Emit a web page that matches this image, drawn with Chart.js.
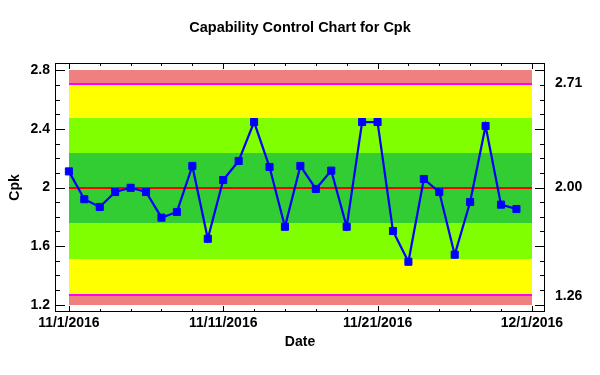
<!DOCTYPE html>
<html>
<head>
<meta charset="utf-8">
<script src="https://cdn.jsdelivr.net/npm/chart.js@4.4.1/dist/chart.umd.min.js"></script>
<style>
  body { margin: 0; background: #fff; }
  #wrap { width: 600px; height: 375px; }
</style>
</head>
<body>
<div id="wrap"><canvas id="myChart"></canvas></div>
<script>
// data
var dates = ['11/1/2016','11/2/2016','11/3/2016','11/4/2016','11/5/2016','11/6/2016','11/7/2016','11/8/2016','11/9/2016','11/10/2016',
             '11/11/2016','11/12/2016','11/13/2016','11/14/2016','11/15/2016','11/16/2016','11/17/2016','11/18/2016','11/19/2016','11/20/2016',
             '11/21/2016','11/22/2016','11/23/2016','11/24/2016','11/25/2016','11/26/2016','11/27/2016','11/28/2016','11/29/2016','11/30/2016'];
var cpk = [2.11, 1.92, 1.867, 1.969, 1.998, 1.969, 1.794, 1.833, 2.147, 1.65,
           2.051, 2.181, 2.447, 2.14, 1.732, 2.147, 1.99, 2.115, 1.732, 2.447,
           2.447, 1.703, 1.493, 2.058, 1.969, 1.541, 1.901, 2.42, 1.883, 1.853];

var xTickDays = [0, 10, 20, 30];
var xTickLabels = ['11/1/2016', '11/11/2016', '11/21/2016', '12/1/2016'];
var yTicks = [1.2, 1.6, 2, 2.4, 2.8];
var rightTicks = [1.26, 2.00, 2.71];

// capability zones (top to bottom) and limit lines
var bandEdges = [2.8, 2.71, 2.475, 2.238, 1.755, 1.509, 1.265, 1.2];
var bandColors = ['#F08080', '#FFFF00', '#7FFF00', '#32CD32', '#7FFF00', '#FFFF00', '#F08080'];
var limitLines = [2.71, 1.265];
var centerLine = 2.0;
var bandStart = 0, bandEnd = 30;

var points = [];
for (var i in cpk) {
    points.push({x: Number(i), y: cpk[i]});
}

var zones = {
    id: 'zones',
    beforeDatasetsDraw: function(chart) {
        var ctx = chart.ctx, x = chart.scales.x, y = chart.scales.y;
        var x0 = Math.round(x.getPixelForValue(bandStart)), x1 = Math.round(x.getPixelForValue(bandEnd));
        ctx.save();
        for (var i = 0; i < bandColors.length; i++) {
            var t = Math.round(y.getPixelForValue(bandEdges[i]));
            var b = Math.round(y.getPixelForValue(bandEdges[i + 1]));
            ctx.fillStyle = bandColors[i];
            ctx.fillRect(x0, t, x1 - x0, b - t);
        }
        ctx.lineWidth = 2;
        ctx.strokeStyle = '#FF00FF';
        limitLines.forEach(function(v) {
            var py = Math.round(y.getPixelForValue(v));
            ctx.beginPath(); ctx.moveTo(x0, py); ctx.lineTo(x1, py); ctx.stroke();
        });
        ctx.strokeStyle = '#FF0000';
        var cy = Math.round(y.getPixelForValue(centerLine));
        ctx.beginPath(); ctx.moveTo(x0, cy); ctx.lineTo(x1, cy); ctx.stroke();
        ctx.restore();
    },
    afterDraw: function(chart) {
        var ctx = chart.ctx, a = chart.chartArea, x = chart.scales.x, y = chart.scales.y;
        ctx.save();
        ctx.strokeStyle = '#000';
        ctx.lineWidth = 1;
        ctx.strokeRect(Math.round(a.left) + 0.5, Math.round(a.top) + 0.5,
                       Math.round(a.right - a.left) - 1, Math.round(a.bottom - a.top) - 1);
        ctx.beginPath();
        // y ticks every 0.1, long ones on the labels
        for (var k = 12; k <= 28; k++) {
            var py = Math.round(y.getPixelForValue(k / 10)) + 0.5;
            var len = (k % 4 === 0) ? 10 : 5;
            ctx.moveTo(a.left, py); ctx.lineTo(a.left + len, py);
            ctx.moveTo(a.right, py); ctx.lineTo(a.right - len, py);
        }
        // x ticks every 2 days
        for (var d = 0; d <= 30; d += 2) {
            var px = Math.round(x.getPixelForValue(d)) + 0.5;
            var l = (d % 10 === 0) ? 6 : 3;
            ctx.moveTo(px, a.bottom); ctx.lineTo(px, a.bottom - l);
            ctx.moveTo(px, a.top); ctx.lineTo(px, a.top + l);
        }
        ctx.stroke();
        ctx.restore();
    }
};

Chart.defaults.color = '#000';
Chart.defaults.font.family = '"Liberation Sans", Arial, sans-serif';

var ctx = document.getElementById('myChart');
var myChart = new Chart(ctx, {
    type: 'line',
    data: {
        datasets: [{
            label: 'Cpk',
            data: points,
            borderColor: '#0000FF',
            backgroundColor: '#0000FF',
            borderWidth: 2.2,
            tension: 0,
            pointStyle: 'rect',
            pointRadius: 5,
            pointBorderWidth: 1,
            pointBackgroundColor: '#0000FF',
            pointBorderColor: '#0000FF'
        }]
    },
    options: {
        responsive: true,
        maintainAspectRatio: false,
        animation: false,
        layout: { padding: 0 },
        plugins: {
            legend: { display: false },
            tooltip: { enabled: false },
            title: {
                display: true,
                text: 'Capability Control Chart for Cpk',
                font: { size: 14.5, weight: 'bold', lineHeight: '18px' },
                padding: { top: 19, bottom: 26 }
            }
        },
        scales: {
            x: {
                type: 'linear',
                min: -0.9,
                max: 30.85,
                grid: { display: false, drawTicks: false },
                border: { display: false },
                afterBuildTicks: function(scale) {
                    scale.ticks = xTickDays.map(function(v) { return {value: v}; });
                },
                afterFit: function(scale) { scale.height = 63; },
                ticks: {
                    autoSkip: false, maxRotation: 0, minRotation: 0, padding: 3,
                    font: { size: 14, weight: 'bold' },
                    callback: function(v) { return xTickLabels[xTickDays.indexOf(v)]; }
                },
                title: {
                    display: true, text: 'Date',
                    font: { size: 14, weight: 'bold' },
                    padding: { top: 0, bottom: 24.6 }
                }
            },
            y: {
                position: 'left',
                min: 1.15,
                max: 2.85,
                grid: { display: false, drawTicks: false },
                border: { display: false },
                afterBuildTicks: function(scale) {
                    scale.ticks = yTicks.map(function(v) { return {value: v}; });
                },
                afterFit: function(scale) { scale.width = 55; },
                ticks: {
                    padding: 5,
                    font: { size: 14, weight: 'bold' },
                    callback: function(v) { return String(v); }
                },
                title: {
                    display: true, text: 'Cpk',
                    font: { size: 14, weight: 'bold' },
                    padding: { top: 6.6, bottom: 0 }
                }
            },
            y2: {
                position: 'right',
                min: 1.15,
                max: 2.85,
                grid: { display: false, drawTicks: false },
                border: { display: false },
                afterBuildTicks: function(scale) {
                    scale.ticks = rightTicks.map(function(v) { return {value: v}; });
                },
                afterFit: function(scale) { scale.width = 55; },
                ticks: {
                    padding: 10,
                    font: { size: 14, weight: 'bold' },
                    callback: function(v) { return v.toFixed(2); }
                }
            }
        }
    },
    plugins: [zones]
}); // myChart
</script>
</body>
</html>
